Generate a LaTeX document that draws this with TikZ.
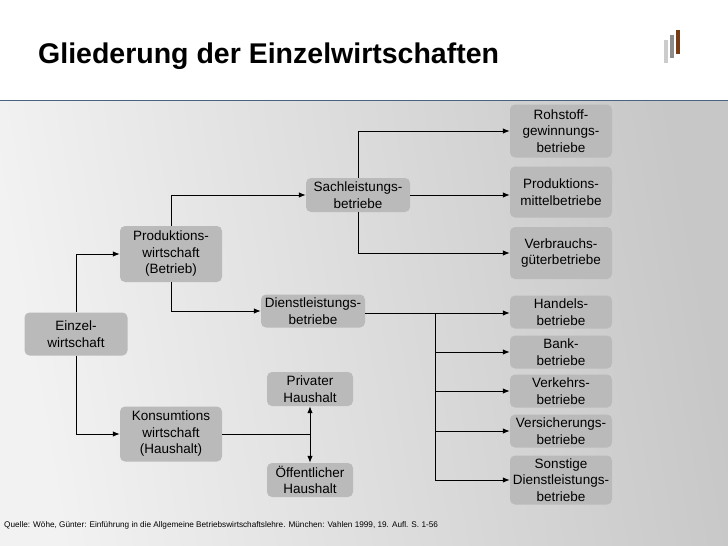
\documentclass[tikz,border=0pt]{standalone}
\usepackage{fontspec}
\setmainfont{Liberation Sans}
\usetikzlibrary{arrows.meta}
\definecolor{logobrown}{RGB}{120,60,20}
\definecolor{rulecol}{RGB}{70,100,130}
\begin{document}
\begin{tikzpicture}[x=1pt,y=-1pt,
  bx/.style={fill=black!27,rounded corners=5pt,align=center,font=\fontsize{13.5}{16.5}\selectfont,inner sep=0pt},
  ar/.style={-{Latex[length=7pt,width=5.5pt]},line width=1pt},
  ln/.style={line width=1pt}]
\useasboundingbox (0,0) rectangle (728,546);
\fill[white] (0,0) rectangle (728,100);
\shade[left color=white!95!black,right color=black!22,shading angle=100] (0,101) rectangle (728,546);
\draw[line width=1pt,color=rulecol] (0,100.5) -- (728,100.5);
\node[anchor=west,font=\bfseries\fontsize{28.5}{32}\selectfont,inner sep=0pt] (title) at (38,56) {Gliederung der Einzelwirtschaften};
\fill[black!20] (664,40) rectangle (668,63);
\fill[black!45] (670,35) rectangle (674,58);
\fill[logobrown] (676,30) rectangle (680,54);
% boxes
\node[bx,minimum width=103,minimum height=43] (ein) at (76,334) {Einzel-\\wirtschaft};
\node[bx,minimum width=102,minimum height=56] (pro) at (171,254) {Produktions-\\wirtschaft\\(Betrieb)};
\node[bx,minimum width=102,minimum height=55] (kon) at (171,434) {Konsumtions\\wirtschaft\\(Haushalt)};
\node[bx,minimum width=104,minimum height=34] (sach) at (358,195) {Sachleistungs-\\betriebe};
\node[bx,minimum width=104,minimum height=33] (dien) at (313,311) {Dienstleistungs-\\betriebe};
\node[bx,minimum width=86,minimum height=34] (priv) at (310,389) {Privater\\Haushalt};
\node[bx,minimum width=86,minimum height=34] (oeff) at (310,480) {Öffentlicher\\Haushalt};
\node[bx,minimum width=102,minimum height=53] (roh) at (561,131) {Rohstoff-\\gewinnungs-\\betriebe};
\node[bx,minimum width=102,minimum height=51] (pm) at (561,192) {Produktions-\\mittelbetriebe};
\node[bx,minimum width=102,minimum height=52] (ver) at (561,253) {Verbrauchs-\\güterbetriebe};
\node[bx,minimum width=102,minimum height=33] (han) at (561,312) {Handels-\\betriebe};
\node[bx,minimum width=102,minimum height=33] (bank) at (561,352) {Bank-\\betriebe};
\node[bx,minimum width=102,minimum height=33] (verk) at (561,391) {Verkehrs-\\betriebe};
\node[bx,minimum width=102,minimum height=33] (vers) at (561,431) {Versicherungs-\\betriebe};
\node[bx,minimum width=102,minimum height=49] (son) at (561,480) {Sonstige\\Dienstleistungs-\\betriebe};
% connectors
\draw[ar] (ein.north) |- (pro.west);
\draw[ar] (ein.south) |- (kon.west);
\draw[ar] (pro.north) |- (sach.west);
\draw[ar] (pro.south) |- (dien.west);
\draw[ar] (sach.north) |- (roh.west);
\draw[ar] (sach.east) -- (pm.west |- sach.east);
\draw[ar] (sach.south) |- (ver.west);
\coordinate (dj) at (435,313);
\draw[ln] (dien.east |- dj) -- (dj);
\draw[ar] (dj) -- (han.west |- dj);
\draw[ar] (dj) |- (bank.west);
\draw[ar] (dj) |- (verk.west);
\draw[ar] (dj) |- (vers.west);
\draw[ar] (dj) |- (son.west);
\coordinate (kj) at (310,434);
\draw[ln] (kon.east) -- (kj);
\draw[{Latex[length=7pt,width=5.5pt]}-{Latex[length=7pt,width=5.5pt]},line width=1pt] (priv.south) -- (oeff.north);
\node[anchor=west,font=\fontsize{8.2}{10}\selectfont,inner sep=0pt] (src) at (4,525) {Quelle: Wöhe, Günter: Einführung in die Allgemeine Betriebswirtschaftslehre. München: Vahlen 1999, 19. Aufl. S. 1-56};
\end{tikzpicture}
\end{document}
